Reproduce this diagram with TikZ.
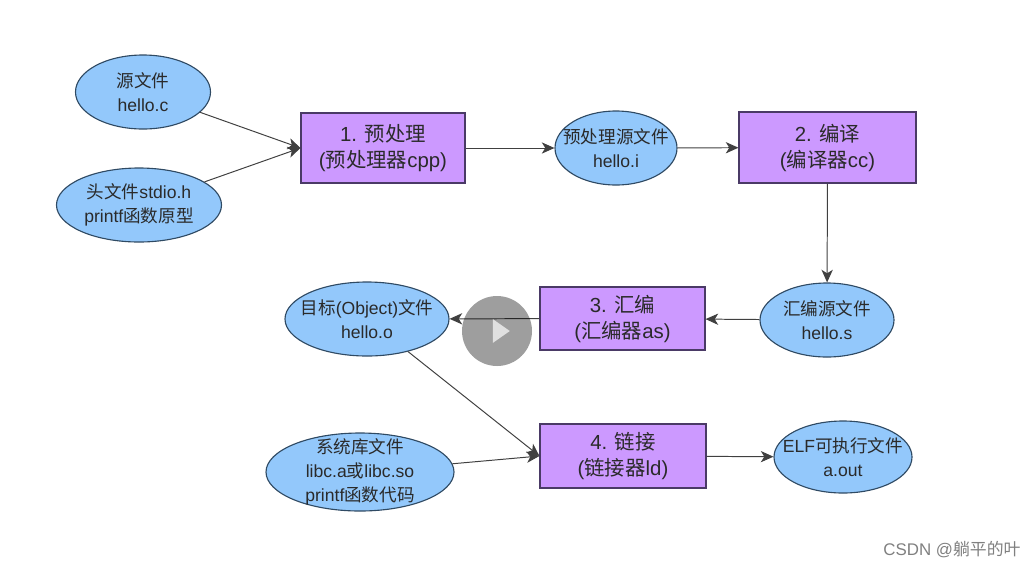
\documentclass[tikz,border=0pt]{standalone}
\usepackage{fontspec}
\usepackage{xcolor}
\setmainfont{Liberation Sans}
\newfontfamily\cjk{Noto Sans CJK SC}
\usetikzlibrary{arrows.meta,shapes.geometric}
\definecolor{filefill}{HTML}{93C8FB}
\definecolor{stepfill}{HTML}{CC99FF}
\definecolor{edgeline}{HTML}{2F4A63}
\definecolor{boxline}{HTML}{4A3A66}
\definecolor{txt}{HTML}{2A2A2A}
\newcommand{\zh}[1]{{\cjk #1}}
\tikzset{
  filenode/.style={ellipse,draw=edgeline,fill=filefill,line width=0.8pt,inner xsep=-14pt,inner ysep=-10pt,align=center,text=txt,font=\fontsize{12.5}{17}\selectfont},
  stepnode/.style={rectangle,draw=boxline,fill=stepfill,line width=0.8pt,inner sep=0pt,align=center,text=txt,font=\fontsize{14.5}{18.5}\selectfont,execute at begin node={\rule{0pt}{17pt}}},
  flow/.style={-{Stealth[length=9pt,width=8pt,inset=2.5pt]},line width=0.7pt,draw=black!75}
}
\begin{document}
\begin{tikzpicture}[x=0.025cm,y=-0.025cm]
        \useasboundingbox (0,0) rectangle (1036,568);

        \node[filenode,minimum width=135*0.025cm,minimum height=74*0.025cm] (src) at (143,92) {\zh{源文件}\\hello.c};
        \node[filenode,minimum width=165*0.025cm,minimum height=74*0.025cm] (hdr) at (139,205) {\zh{头文件}stdio.h\\printf\zh{函数原型}};
        \node[stepnode,minimum width=164*0.025cm,minimum height=70*0.025cm] (pre) at (383,148) {1. \zh{预处理}\\(\zh{预处理器}cpp)};
        \node[filenode,minimum width=122*0.025cm,minimum height=74*0.025cm] (prei) at (616,148) {\zh{预处理源文件}\\hello.i};
        \node[stepnode,minimum width=177*0.025cm,minimum height=71*0.025cm] (comp) at (827.5,147.5) {2. \zh{编译}\\(\zh{编译器}cc)};
        \node[filenode,minimum width=134*0.025cm,minimum height=74*0.025cm] (hellos) at (827,320) {\zh{汇编源文件}\\hello.s};
        \node[stepnode,minimum width=165*0.025cm,minimum height=63*0.025cm] (asm) at (622.5,318.5) {3. \zh{汇编}\\(\zh{汇编器}as)};
        \node[filenode,minimum width=164*0.025cm,minimum height=74*0.025cm] (obj) at (367,319) {\zh{目标}(Object)\zh{文件}\\hello.o};
        \node[stepnode,minimum width=166*0.025cm,minimum height=64*0.025cm] (link) at (623,456) {4. \zh{链接}\\(\zh{链接器}ld)};
        \node[filenode,minimum width=188*0.025cm,minimum height=78*0.025cm] (lib) at (360,472) {\zh{系统库文件}\\libc.a\zh{或}libc.so\\printf\zh{函数代码}};
        \node[filenode,minimum width=138*0.025cm,minimum height=72*0.025cm] (elf) at (843,457) {ELF\zh{可执行文件}\\a.out};

        \draw[flow] (src) -- (pre.west);
        \draw[flow] (hdr) -- (pre.west);
        \draw[flow] (pre) -- (prei);
        \draw[flow] (prei) -- (comp);
        \draw[flow] (comp) -- (hellos);
        \draw[flow] (hellos) -- (asm);
        \draw[flow] (asm) -- (obj);
        \draw[flow] (obj) -- (link.west);
        \draw[flow] (lib) -- (link.west);
        \draw[flow] (link) -- (elf);

        % player overlay
        \node[circle,fill=black,fill opacity=0.38,minimum size=70*0.025cm,inner sep=0pt] (play) at (497,331) {};
        \node[isosceles triangle,isosceles triangle apex angle=70,fill=white!88!black,inner sep=0pt,minimum height=17*0.025cm,minimum width=22*0.025cm] (playtip) at (499,331) {};

        \node[text=black!50,font=\fontsize{12}{14}\selectfont] (mark) at (952,550) {CSDN @\zh{躺平的叶}};
      \end{tikzpicture}
\end{document}
